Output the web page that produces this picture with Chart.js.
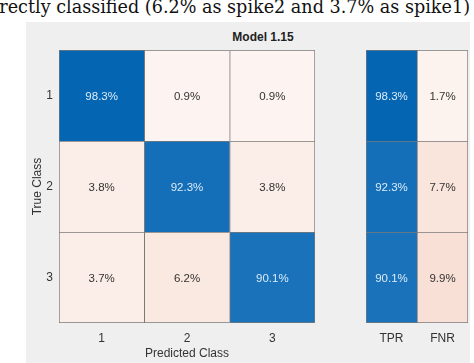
<!DOCTYPE html>
<html>
<head>
<meta charset="utf-8">
<script src="https://cdn.jsdelivr.net/npm/chart.js@4"></script>
<style>
  html, body { margin: 0; padding: 0; background: #fff; overflow: hidden; }
  #page { position: relative; width: 474px; height: 363px; overflow: hidden; }
  #panel { position: absolute; left: 26px; top: 22px; width: 444px; height: 341px; background: #efefef; }
  #caption { position: absolute; right: 4px; top: -3px; white-space: nowrap;
    font: 17.6px "DejaVu Serif", serif; color: #111; }
  #title { position: absolute; left: 163px; width: 200px; top: 30px; text-align: center;
    font: bold 12px "Liberation Sans", Arial, sans-serif; color: #222; }
  canvas { position: absolute; left: 0; top: 0; }
</style>
</head>
<body>
<div id="page">
  <div id="caption">rectly classified (6.2% as spike2 and 3.7% as spike1)</div>
  <div id="panel"></div>
  <div id="title">Model 1.15</div>
  <canvas id="main" width="474" height="363"></canvas>
  <canvas id="side" width="474" height="363"></canvas>
</div>
<script>
// confusion matrix, rows = true class, columns = predicted class (percent of row)
const predictedClasses = ['1', '2', '3'];
const trueClasses = ['1', '2', '3'];
const trueClass1 = [98.3, 0.9, 0.9];
const trueClass2 = [3.8, 92.3, 3.8];
const trueClass3 = [3.7, 6.2, 90.1];
const matrixRows = [trueClass1, trueClass2, trueClass3];

// row summary
const rateLabels = ['TPR', 'FNR'];
const tprValues = [98.3, 92.3, 90.1];
const fnrValues = [1.7, 7.7, 9.9];

const FONT = '"Liberation Sans", Arial, sans-serif';
const GRID = '#7a7a7a';

function mix(base, a) {
  const c = base.map(v => Math.round(255 - (255 - v) * a));
  return `rgb(${c[0]},${c[1]},${c[2]})`;
}
function blueFor(v) { return mix([0, 98, 178], v / 100); }
function pinkFor(v) { return mix([217, 83, 25], 0.05 + v / 100 * 1.3); }

// write the percent labels in each cell
const cellText = {
  id: 'cellText',
  afterDatasetsDraw(chart) {
    const ctx = chart.ctx;
    ctx.save();
    ctx.font = '11.5px ' + FONT;
    ctx.textAlign = 'center';
    ctx.textBaseline = 'middle';
    chart.data.datasets.forEach((ds, di) => {
      chart.getDatasetMeta(di).data.forEach((el, i) => {
        const v = ds.cellValues[i];
        ctx.fillStyle = ds.darkCell[i] ? '#dcebf8' : '#333';
        ctx.fillText(v.toFixed(1) + '%', el.x, (el.y + el.base) / 2 + 1);
      });
    });
    ctx.restore();
  }
};

function cellBorder(nCols, nRows) {
  return c => ({
    left: 1, top: 1,
    right: c.dataIndex === nCols - 1 ? 1 : 0,
    bottom: c.datasetIndex === nRows - 1 ? 1 : 0
  });
}

function yScale(show) {
  return {
    type: 'linear', min: 0, max: trueClasses.length, reverse: true, stacked: true,
    display: show,
    grid: { display: false, drawTicks: false }, border: { display: false },
    afterBuildTicks: s => { s.ticks = trueClasses.map((_, i) => ({ value: i + 0.5 })); },
    afterFit: s => { if (show) s.width = 33; },
    ticks: {
      padding: 6, color: '#333', font: { family: FONT, size: 12 },
      callback: v => trueClasses[Math.floor(v)]
    },
    title: { display: true, text: 'True Class', color: '#333', font: { family: FONT, size: 12 }, padding: { top: 4, bottom: 0 } }
  };
}

function xScale(labels, withTitle) {
  return {
    type: 'category', labels: labels, stacked: true, offset: true,
    grid: { display: false, drawTicks: false }, border: { display: false },
    afterFit: s => { s.height = 40; },
    ticks: { padding: 8, color: '#333', font: { family: FONT, size: 12 } },
    title: { display: withTitle, text: 'Predicted Class', color: '#333', font: { family: FONT, size: 12 }, padding: { top: 1, bottom: 2 } }
  };
}

const mainDatasets = matrixRows.map((row, r) => ({
  label: 'True ' + trueClasses[r],
  data: row.map(() => 1),
  cellValues: row,
  darkCell: row.map((v, c) => r === c),
  backgroundColor: row.map((v, c) => r === c ? blueFor(v) : pinkFor(v)),
  borderColor: GRID,
  borderWidth: cellBorder(predictedClasses.length, trueClasses.length),
  borderSkipped: false,
  barPercentage: 1, categoryPercentage: 1
}));

new Chart(document.getElementById('main'), {
  type: 'bar',
  data: { labels: predictedClasses, datasets: mainDatasets },
  options: {
    responsive: false, animation: false, devicePixelRatio: 1,
    layout: { padding: { left: 26, top: 50, right: 159, bottom: 0 } },
    plugins: { legend: { display: false }, tooltip: { enabled: false } },
    scales: { x: xScale(predictedClasses, true), y: yScale(true) }
  },
  plugins: [cellText]
});

const sideDatasets = trueClasses.map((t, r) => ({
  label: 'True ' + t,
  data: rateLabels.map(() => 1),
  cellValues: [tprValues[r], fnrValues[r]],
  darkCell: [true, false],
  backgroundColor: [blueFor(tprValues[r]), pinkFor(fnrValues[r])],
  borderColor: GRID,
  borderWidth: cellBorder(rateLabels.length, trueClasses.length),
  borderSkipped: false,
  barPercentage: 1, categoryPercentage: 1
}));

new Chart(document.getElementById('side'), {
  type: 'bar',
  data: { labels: rateLabels, datasets: sideDatasets },
  options: {
    responsive: false, animation: false, devicePixelRatio: 1,
    layout: { padding: { left: 366, top: 50, right: 6, bottom: 0 } },
    plugins: { legend: { display: false }, tooltip: { enabled: false } },
    scales: { x: xScale(rateLabels, false), y: yScale(false) }
  },
  plugins: [cellText]
});
</script>
</body>
</html>
